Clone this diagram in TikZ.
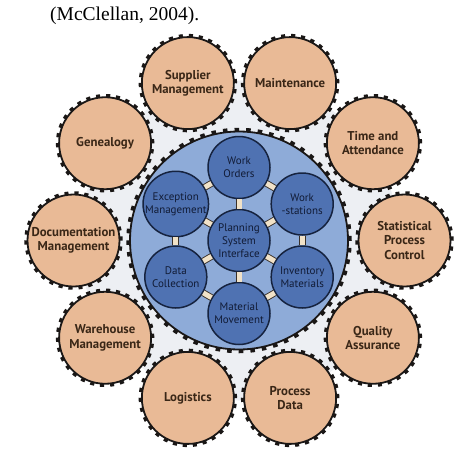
\documentclass[tikz,border=0pt]{standalone}
\usepackage{fontspec}
\setmainfont{Liberation Serif}
\newfontfamily\gearfont{PT Sans}
\definecolor{peach}{HTML}{E9BA96}
\definecolor{hubblue}{HTML}{8EABD8}
\definecolor{cellblue}{HTML}{4F72B2}
\definecolor{cellline}{HTML}{16233F}
\definecolor{gearline}{HTML}{1A1716}
\definecolor{browntext}{HTML}{3A2717}
\definecolor{navytext}{HTML}{111B35}
\definecolor{linkfill}{HTML}{F1E2C8}
\definecolor{linkline}{HTML}{3A3028}
\definecolor{bggray}{HTML}{EDEFF3}
\begin{document}
\begin{tikzpicture}[x=1pt,y=-1pt,
  gear/.style={circle, minimum size=92pt, inner sep=0pt, fill=peach, draw=gearline, line width=1.8pt,
    preaction={draw=gearline, line width=6.5pt, dash pattern=on 4pt off 5.63pt},
    font=\gearfont\bfseries\fontsize{12.8}{14.3}\selectfont, text=browntext, align=center},
  hubgear/.style={circle, minimum size=218pt, inner sep=0pt, fill=hubblue, draw=gearline, line width=1.8pt,
    preaction={draw=gearline, line width=7.5pt, dash pattern=on 4.5pt off 6.91pt}},
  cell/.style={circle, minimum size=62pt, inner sep=0pt, fill=cellblue, draw=cellline, line width=1.5pt,
    font=\gearfont\fontsize{11}{12.8}\selectfont, text=navytext, align=center},
  link/.style={draw=linkline, line width=0.9pt, double=linkfill, double distance=5pt},
]
\useasboundingbox (0,0) rectangle (474,461);
\fill[bggray] (239,240.5) circle (160);
\node[anchor=base west, font=\fontsize{19.5}{22}\selectfont, inner sep=0pt] (title) at (50,20) {(McClellan, 2004).};

% outer gears
\foreach \a/\n/\t in {0/spc/{Statistical\\Process\\Control},
  36/ta/{Time and\\Attendance},
  72/mt/{Maintenance},
  108/sm/{Supplier\\Management},
  144/gn/{Genealogy},
  180/dm/{Documentation\\Management},
  216/wm/{Warehouse\\Management},
  252/lg/{Logistics},
  288/pd/{Process\\Data},
  324/qa/{Quality\\Assurance}}{
  \node[gear] (\n) at ({239+165.5*cos(\a)},{240.5-165.5*sin(\a)}) {\t};
}

% hub
\node[hubgear] (hub) at (239,240.5) {};

% inner cells
\node[cell] (pl) at (239,240.5) {Planning\\System\\Interface};
\node[cell] (wo) at (239,167.5) {Work\\Orders};
\node[cell] (ws) at (302.2,204) {Work\\-stations};
\node[cell] (inv) at (302.2,277) {Inventory\\Materials};
\node[cell] (mm) at (239,313.5) {Material\\Movement};
\node[cell] (dc) at (175.8,277) {Data\\Collection};
\node[cell] (ex) at (175.8,204) {Exception\\Management};

% connectors
\draw[link] (wo) -- (ws);
\draw[link] (ws) -- (inv);
\draw[link] (inv) -- (mm);
\draw[link] (mm) -- (dc);
\draw[link] (dc) -- (ex);
\draw[link] (ex) -- (wo);
\foreach \m in {wo,ws,inv,mm,dc,ex}{
  \draw[link] (pl) -- (\m);
}
\end{tikzpicture}
\end{document}
